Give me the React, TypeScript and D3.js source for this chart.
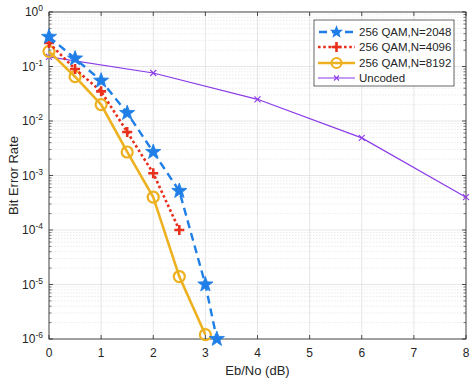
import React from "react";
import * as d3 from "d3";

const xTicks = [0, 1, 2, 3, 4, 5, 6, 7, 8];
const yDecades = [0, -1, -2, -3, -4, -5, -6];

const n2048X = [0, 0.5, 1, 1.5, 2, 2.5, 3, 3.22];
const n2048Y = [0.35, 0.14, 0.055, 0.014, 0.0027, 0.00052, 0.00001, 0.000001];
const n4096X = [0, 0.5, 1, 1.5, 2, 2.5];
const n4096Y = [0.27, 0.09, 0.035, 0.0063, 0.0011, 0.0001];
const n8192X = [0, 0.5, 1, 1.5, 2, 2.5, 3];
const n8192Y = [0.19, 0.065, 0.02, 0.0027, 0.0004, 0.000014, 0.0000012];
const uncX = [0, 2, 4, 6, 8];
const uncY = [0.15, 0.076, 0.025, 0.0049, 0.0004];

const legendLabels = ["256 QAM,N=2048", "256 QAM,N=4096", "256 QAM,N=8192", "Uncoded"];

const W = 474, H = 383;
const L = 49, R = 466, T = 12, B = 339;
const FONT = "'Liberation Sans', Arial, Helvetica, sans-serif";

const BLUE = "#1f7fe6";
const RED = "#e8301c";
const ORANGE = "#edb120";
const PURPLE = "#8a3be8";

function starPath(cx: number, cy: number, ro: number, ri: number) {
  const pts: string[] = [];
  for (let i = 0; i < 10; i++) {
    const r = i % 2 === 0 ? ro : ri;
    const a = -Math.PI / 2 + (i * Math.PI) / 5;
    pts.push(`${cx + r * Math.cos(a)},${cy + r * Math.sin(a)}`);
  }
  return "M" + pts.join("L") + "Z";
}

export default function App() {
  const x = d3.scaleLinear().domain([0, 8]).range([L, R]);
  const y = d3.scaleLog().domain([1e-6, 1]).range([B, T]);

  const mk = (xs: number[], ys: number[]) =>
    d3.line<number>().x((_, i) => x(xs[i])).y((_, i) => y(ys[i]))(xs.map((_, i) => i)) || "";

  const minors: number[] = [];
  for (let d = -6; d < 0; d++) for (let m = 2; m <= 9; m++) minors.push(m * Math.pow(10, d));

  const legX = 314, legY = 20, legW = 140, legH = 66;
  const rowY = [32, 47, 63, 78];

  return (
    <svg width={W} height={H} style={{ position: "absolute", left: 0, top: 0, background: "#fff" }}>
      <rect x={0} y={0} width={W} height={H} fill="#fff" />
      {/* minor grid */}
      {minors.map((v, i) => (
        <line key={"mg" + i} x1={L} x2={R} y1={y(v)} y2={y(v)} stroke="#e3e3e3" strokeWidth={0.7} strokeDasharray="1.5,1.5" />
      ))}
      {/* major grid */}
      {yDecades.map((d) => (
        <line key={"yg" + d} x1={L} x2={R} y1={y(Math.pow(10, d))} y2={y(Math.pow(10, d))} stroke="#e0e0e0" strokeWidth={0.8} />
      ))}
      {xTicks.map((t) => (
        <line key={"xg" + t} x1={x(t)} x2={x(t)} y1={T} y2={B} stroke="#e0e0e0" strokeWidth={0.8} />
      ))}
      {/* box */}
      <rect x={L} y={T} width={R - L} height={B - T} fill="none" stroke="#262626" strokeWidth={0.8} />
      {/* ticks */}
      {xTicks.map((t) => (
        <g key={"xt" + t}>
          <line x1={x(t)} x2={x(t)} y1={B} y2={B - 4} stroke="#262626" strokeWidth={0.8} />
          <line x1={x(t)} x2={x(t)} y1={T} y2={T + 4} stroke="#262626" strokeWidth={0.8} />
          <text x={x(t)} y={357} textAnchor="middle" fontFamily={FONT} fontSize={12} fill="#262626">{t}</text>
        </g>
      ))}
      {yDecades.map((d) => (
        <g key={"yt" + d}>
          <line x1={L} x2={L + 4} y1={y(Math.pow(10, d))} y2={y(Math.pow(10, d))} stroke="#262626" strokeWidth={0.8} />
          <line x1={R} x2={R - 4} y1={y(Math.pow(10, d))} y2={y(Math.pow(10, d))} stroke="#262626" strokeWidth={0.8} />
          <text x={43} y={y(Math.pow(10, d)) + 4} textAnchor="end" fontFamily={FONT} fontSize={12} fill="#262626">
            10<tspan dy={-5} fontSize={8.5}>{String(d)}</tspan>
          </text>
        </g>
      ))}
      {minors.map((v, i) => (
        <g key={"mt" + i}>
          <line x1={L} x2={L + 2.5} y1={y(v)} y2={y(v)} stroke="#262626" strokeWidth={0.6} />
          <line x1={R} x2={R - 2.5} y1={y(v)} y2={y(v)} stroke="#262626" strokeWidth={0.6} />
        </g>
      ))}
      <text x={(L + R) / 2} y={375} textAnchor="middle" fontFamily={FONT} fontSize={13} fill="#262626">Eb/No (dB)</text>
      <text transform={`translate(18,${(T + B) / 2}) rotate(-90)`} textAnchor="middle" fontFamily={FONT} fontSize={13} fill="#262626">Bit Error Rate</text>

      {/* series */}
      <path d={mk(uncX, uncY)} fill="none" stroke={PURPLE} strokeWidth={1.2} />
      {uncX.map((v, i) => (
        <path key={"ux" + i} d={`M${x(v) - 3},${y(uncY[i]) - 3}L${x(v) + 3},${y(uncY[i]) + 3}M${x(v) - 3},${y(uncY[i]) + 3}L${x(v) + 3},${y(uncY[i]) - 3}`} stroke={PURPLE} strokeWidth={1.1} />
      ))}
      <path d={mk(n8192X, n8192Y)} fill="none" stroke={ORANGE} strokeWidth={2.6} />
      {n8192X.map((v, i) => (
        <circle key={"oc" + i} cx={x(v)} cy={y(n8192Y[i])} r={5.5} fill="none" stroke={ORANGE} strokeWidth={2.2} />
      ))}
      <path d={mk(n4096X, n4096Y)} fill="none" stroke={RED} strokeWidth={2.6} strokeDasharray="2.6,2.6" />
      {n4096X.map((v, i) => (
        <path key={"rp" + i} d={`M${x(v) - 5},${y(n4096Y[i])}L${x(v) + 5},${y(n4096Y[i])}M${x(v)},${y(n4096Y[i]) - 5}L${x(v)},${y(n4096Y[i]) + 5}`} stroke={RED} strokeWidth={2.6} />
      ))}
      <path d={mk(n2048X, n2048Y)} fill="none" stroke={BLUE} strokeWidth={2.4} strokeDasharray="8,5" />
      {n2048X.map((v, i) => (
        <path key={"bs" + i} d={starPath(x(v), y(n2048Y[i]), 8, 3.3)} fill={BLUE} stroke={BLUE} strokeWidth={0.8} />
      ))}

      {/* legend */}
      <rect x={legX} y={legY} width={legW} height={legH} fill="#fff" stroke="#262626" strokeWidth={0.7} />
      <line x1={318} x2={355} y1={rowY[0]} y2={rowY[0]} stroke={BLUE} strokeWidth={2.4} strokeDasharray="8,5" strokeDashoffset={-1} />
      <path d={starPath(336.5, rowY[0], 7, 2.9)} fill={BLUE} />
      <line x1={318} x2={355} y1={rowY[1]} y2={rowY[1]} stroke={RED} strokeWidth={2.6} strokeDasharray="2.6,2.6" />
      <path d={`M331.5,${rowY[1]}L341.5,${rowY[1]}M336.5,${rowY[1] - 5}L336.5,${rowY[1] + 5}`} stroke={RED} strokeWidth={2.6} />
      <line x1={318} x2={355} y1={rowY[2]} y2={rowY[2]} stroke={ORANGE} strokeWidth={2.6} />
      <circle cx={336.5} cy={rowY[2]} r={5} fill="none" stroke={ORANGE} strokeWidth={2.2} />
      <line x1={318} x2={355} y1={rowY[3]} y2={rowY[3]} stroke={PURPLE} strokeWidth={1.2} />
      <path d={`M334,${rowY[3] - 2.5}L339,${rowY[3] + 2.5}M334,${rowY[3] + 2.5}L339,${rowY[3] - 2.5}`} stroke={PURPLE} strokeWidth={1.1} />
      {legendLabels.map((s, i) => (
        <text key={"lg" + i} x={359} y={rowY[i] + 4} fontFamily={FONT} fontSize={11.5} fill="#262626">{s}</text>
      ))}
    </svg>
  );
}
